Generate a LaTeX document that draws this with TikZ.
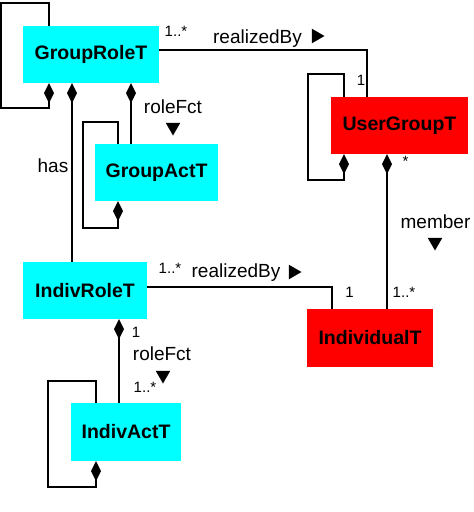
\documentclass[tikz,border=0pt]{standalone}
\usepackage{fontspec}
\setmainfont{Liberation Sans}
\usetikzlibrary{arrows.meta,shapes.geometric}
\definecolor{rolecyan}{RGB}{0,255,255}
\definecolor{actorred}{RGB}{255,0,0}

\begin{document}
\begin{tikzpicture}[x=1pt,y=-1pt,
  cls/.style={inner sep=0pt,font=\fontsize{19.5}{21}\selectfont\bfseries},
  role/.style={cls,fill=rolecyan},
  actor/.style={cls,fill=actorred},
  assoc/.style={line width=1.7pt,line join=miter},
  comp/.style={assoc,{Diamond[length=20pt,width=10pt]}-},
  lbl/.style={font=\fontsize{19}{21}\selectfont,inner sep=0pt,anchor=base},
  mult/.style={font=\fontsize{15}{17}\selectfont,inner sep=0pt,anchor=base},
  headtri/.style={regular polygon,regular polygon sides=3,fill=black,inner sep=0pt,minimum size=17pt}]
\useasboundingbox (0,0) rectangle (474,512);
% self-association: node, xshift, rise, reach, drop
\newcommand{\assocloop}[5]{
  \draw[comp] ([xshift=#2pt]#1.south) -- ++(0,#5) -- ++(-#4,0)
    |- ([xshift=#2pt,yshift=#3pt]#1.north) -- ([xshift=#2pt]#1.north);
}

% classes
\node[role,minimum width=136pt,minimum height=57pt] (grt) at (91,54.5) {GroupRoleT};
\node[role,minimum width=123pt,minimum height=57pt] (gat) at (156.5,172.5) {GroupActT};
\node[actor,minimum width=137pt,minimum height=57pt] (ugt) at (399.5,125.5) {UserGroupT};
\node[role,minimum width=124pt,minimum height=57pt] (irt) at (85,290.5) {IndivRoleT};
\node[role,minimum width=110pt,minimum height=58pt] (iat) at (126,432) {IndivActT};
\node[actor,minimum width=126pt,minimum height=58pt] (ind) at (370,338) {IndividualT};

% self associations
\assocloop{grt}{-42}{23}{48}{25}
\assocloop{gat}{-38.5}{22}{35}{27}
\assocloop{ugt}{-55.5}{23}{36}{26}
\assocloop{iat}{-30}{22}{48}{26}

% compositions
\coordinate (hasA) at ([xshift=-19pt]grt.south);
\draw[comp] (hasA) -- (hasA |- irt.north);
\coordinate (gfctA) at ([xshift=40pt]grt.south);
\draw[comp] (gfctA) -- (gfctA |- gat.north);
\coordinate (memA) at ([xshift=-12.5pt]ugt.south);
\draw[comp] (memA) -- (memA |- ind.north);
\coordinate (ifctA) at ([xshift=34pt]irt.south);
\draw[comp] (ifctA) -- (ifctA |- iat.north);

% realizations
\draw[assoc] ([yshift=4.5pt]grt.east) -| ([xshift=-32.5pt]ugt.north);
\draw[assoc] ([yshift=3.5pt]irt.east) -| ([xshift=-38pt]ind.north);

% labels
\node[mult] (m1) at (176,36.7) {1..*};
\node[lbl] (rb1) at (257.5,43) {realizedBy};
\node[headtri,rotate=-90] (t1) at (316,36) {};
\node[mult] (m2) at (361,85) {1};
\node[lbl] (rf1) at (173,113) {roleFct};
\node[headtri,rotate=180] (t2) at (173,127) {};
\node[lbl] (has) at (53,172) {has};
\node[mult] (m3) at (405.5,166) {*};
\node[lbl] (mem) at (435.5,228) {member};
\node[headtri,rotate=180] (t3) at (435,242) {};
\node[mult] (m4) at (170,273) {1..*};
\node[lbl] (rb2) at (236,277) {realizedBy};
\node[headtri,rotate=-90] (t4) at (293,272) {};
\node[mult] (m5) at (349.5,297) {1};
\node[mult] (m6) at (404,297) {1..*};
\node[mult] (m7) at (136,337) {1};
\node[lbl] (rf2) at (162,360) {roleFct};
\node[headtri,rotate=180] (t5) at (163,375) {};
\node[mult] (m8) at (145,392) {1..*};
\end{tikzpicture}
\end{document}
